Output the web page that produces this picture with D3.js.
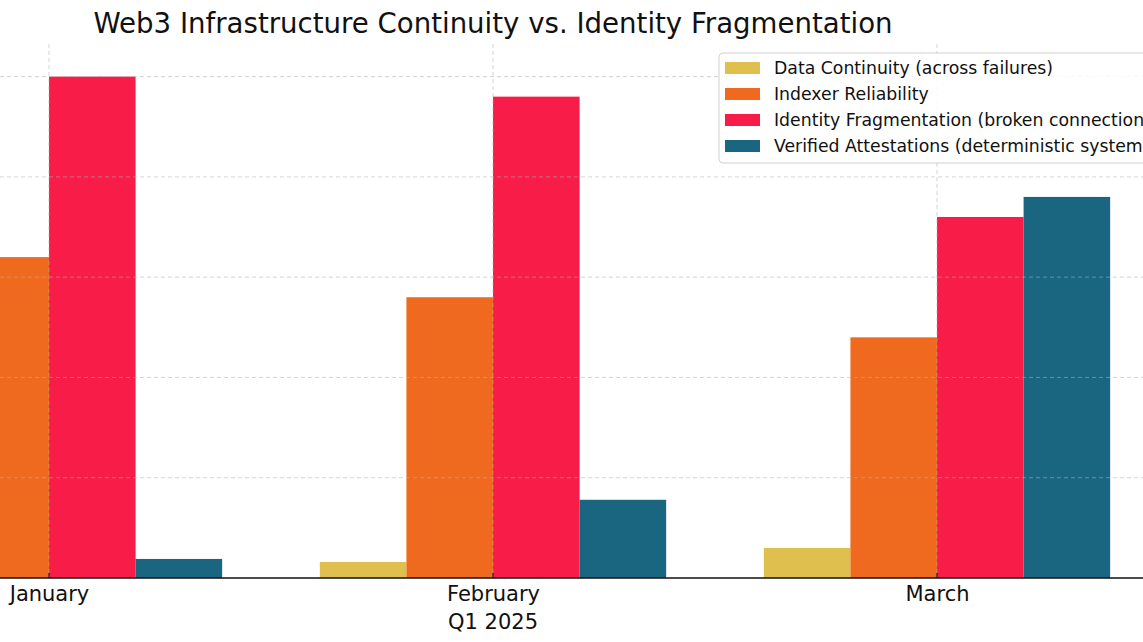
<!DOCTYPE html>
<html><head><meta charset="utf-8">
<script src="https://cdn.jsdelivr.net/npm/d3@7"></script>
<style>body{margin:0;background:#fff;} svg{display:block;font-family:"DejaVu Sans",sans-serif;}</style>
</head><body><div id="chart"></div>
<script>
const categories = ["January", "February", "March"];
const seriesNames = ["Data Continuity (across failures)", "Indexer Reliability", "Identity Fragmentation (broken connections)", "Verified Attestations (deterministic systems)"];
const dataContinuity = [2, 3.2, 6];
const indexerReliability = [64, 56, 48];
const identityFragmentation = [100, 96, 72];
const verifiedAttestations = [3.8, 15.6, 76];
const yTicks = [0, 20, 40, 60, 80, 100];
const xAxisLabel = "Q1 2025";
const title = "Web3 Infrastructure Continuity vs. Identity Fragmentation";
const colors = ["#DFBF4E", "#EF6A1F", "#F81C48", "#1A6580"];

const series = [dataContinuity, indexerReliability, identityFragmentation, verifiedAttestations];
const W = 1143, H = 642;
const svg = d3.select("#chart").append("svg").attr("width", W).attr("height", H);

// plot area (left part of the original chart is cropped off)
const plotTop = 44, plotBottom = 578;
const x = d3.scalePoint().domain(categories).range([49, 937]);
const step = x(categories[1]) - x(categories[0]);
const barW = step * 0.195;
const y = d3.scaleLinear().domain([0, 106.5]).range([plotBottom, plotTop]);

// bars
series.forEach((vals, si) => {
  svg.append("g").selectAll("rect").data(vals).join("rect")
    .attr("x", (d, i) => x(categories[i]) + (si - 2) * barW)
    .attr("y", d => y(d))
    .attr("width", barW)
    .attr("height", d => y(0) - y(d))
    .attr("fill", colors[si]);
});

// grid on top, translucent
const grid = svg.append("g").attr("stroke", "#b0b0b0").attr("stroke-opacity", 0.55)
  .attr("stroke-dasharray", "4,3").attr("stroke-width", 1);
grid.selectAll("line.h").data(yTicks.filter(t => t > 0)).join("line")
  .attr("x1", 0).attr("x2", W).attr("y1", d => y(d)).attr("y2", d => y(d));
grid.selectAll("line.v").data(categories).join("line")
  .attr("x1", d => x(d)).attr("x2", d => x(d)).attr("y1", plotTop).attr("y2", plotBottom);

// x axis
const xAxis = d3.axisBottom(x).tickSize(0).tickPadding(8);
const gx = svg.append("g").attr("transform", `translate(0,${plotBottom})`).call(xAxis);
gx.select(".domain").remove();
gx.selectAll("text").attr("font-size", 21).attr("fill", "#111").attr("font-family", "DejaVu Sans");
svg.append("line").attr("x1", 0).attr("x2", W).attr("y1", plotBottom).attr("y2", plotBottom)
  .attr("stroke", "#111").attr("stroke-width", 1.3);
svg.selectAll("line.tick").data(categories).join("line")
  .attr("x1", d => x(d)).attr("x2", d => x(d)).attr("y1", plotBottom).attr("y2", plotBottom - 5)
  .attr("stroke", "#111").attr("stroke-width", 1);

svg.append("text").attr("x", x(categories[1])).attr("y", 629).attr("text-anchor", "middle")
  .attr("font-size", 21).attr("fill", "#111").text(xAxisLabel);

// title
svg.append("text").attr("x", x(categories[1])).attr("y", 33).attr("text-anchor", "middle")
  .attr("font-size", 27.6).attr("fill", "#111").text(title);

// legend
const lg = svg.append("g");
lg.append("rect").attr("x", 719).attr("y", 53).attr("width", 470).attr("height", 110)
  .attr("rx", 4).attr("fill", "#fff").attr("fill-opacity", 0.85).attr("stroke", "#d0d0d0");
seriesNames.forEach((name, i) => {
  const cy = 68 + i * 26;
  lg.append("rect").attr("x", 725).attr("y", cy - 6).attr("width", 35).attr("height", 12).attr("fill", colors[i]);
  lg.append("text").attr("x", 774).attr("y", cy + 6).attr("font-size", 17.3).attr("fill", "#111").text(name);
});
</script></body></html>
